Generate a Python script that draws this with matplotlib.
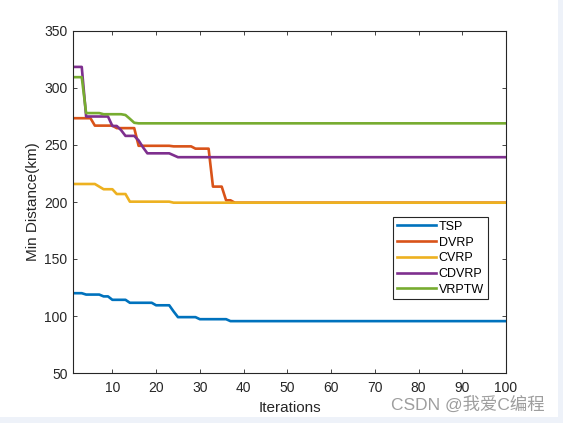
import numpy as np
import matplotlib.pyplot as plt
from matplotlib.patches import Rectangle

# Iteration axis and best distance per iteration for each problem type
iterations = np.arange(1, 101)

tsp = [
    120.0, 120.0, 120.0, 118.8, 118.8, 118.8, 118.8, 117.2, 117.2, 114.2,
    114.2, 114.2, 114.2, 111.6, 111.6, 111.6, 111.6, 111.6, 111.6, 109.4,
    109.4, 109.4, 109.4, 104.0, 99.0, 99.0, 99.0, 99.0, 99.0, 97.2,
    97.2, 97.2, 97.2, 97.2, 97.2, 97.2, 95.5, 95.5, 95.5, 95.5,
    95.5, 95.5, 95.5, 95.5, 95.5, 95.5, 95.5, 95.5, 95.5, 95.5,
    95.5, 95.5, 95.5, 95.5, 95.5, 95.5, 95.5, 95.5, 95.5, 95.5,
    95.5, 95.5, 95.5, 95.5, 95.5, 95.5, 95.5, 95.5, 95.5, 95.5,
    95.5, 95.5, 95.5, 95.5, 95.5, 95.5, 95.5, 95.5, 95.5, 95.5,
    95.5, 95.5, 95.5, 95.5, 95.5, 95.5, 95.5, 95.5, 95.5, 95.5,
    95.5, 95.5, 95.5, 95.5, 95.5, 95.5, 95.5, 95.5, 95.5, 95.5,
]

dvrp = [
    273.5, 273.5, 273.5, 273.5, 273.5, 267.0, 267.0, 267.0, 267.0, 267.0,
    264.8, 264.8, 264.8, 264.8, 264.8, 249.3, 249.3, 249.3, 249.3, 249.3,
    249.3, 249.3, 249.3, 248.8, 248.8, 248.8, 248.8, 248.8, 246.8, 246.8,
    246.8, 246.8, 213.5, 213.5, 213.5, 201.5, 201.5, 199.4, 199.4, 199.4,
    199.4, 199.4, 199.4, 199.4, 199.4, 199.4, 199.4, 199.4, 199.4, 199.4,
    199.4, 199.4, 199.4, 199.4, 199.4, 199.4, 199.4, 199.4, 199.4, 199.4,
    199.4, 199.4, 199.4, 199.4, 199.4, 199.4, 199.4, 199.4, 199.4, 199.4,
    199.4, 199.4, 199.4, 199.4, 199.4, 199.4, 199.4, 199.4, 199.4, 199.4,
    199.4, 199.4, 199.4, 199.4, 199.4, 199.4, 199.4, 199.4, 199.4, 199.4,
    199.4, 199.4, 199.4, 199.4, 199.4, 199.4, 199.4, 199.4, 199.4, 199.4,
]

cvrp = [
    215.8, 215.8, 215.8, 215.8, 215.8, 215.8, 213.5, 211.2, 211.2, 211.2,
    207.0, 207.0, 207.0, 200.3, 200.3, 200.3, 200.3, 200.3, 200.3, 200.3,
    200.3, 200.3, 200.3, 199.4, 199.4, 199.4, 199.4, 199.4, 199.4, 199.4,
    199.4, 199.4, 199.4, 199.4, 199.4, 199.4, 199.4, 199.4, 199.4, 199.4,
    199.4, 199.4, 199.4, 199.4, 199.4, 199.4, 199.4, 199.4, 199.4, 199.4,
    199.4, 199.4, 199.4, 199.4, 199.4, 199.4, 199.4, 199.4, 199.4, 199.4,
    199.4, 199.4, 199.4, 199.4, 199.4, 199.4, 199.4, 199.4, 199.4, 199.4,
    199.4, 199.4, 199.4, 199.4, 199.4, 199.4, 199.4, 199.4, 199.4, 199.4,
    199.4, 199.4, 199.4, 199.4, 199.4, 199.4, 199.4, 199.4, 199.4, 199.4,
    199.4, 199.4, 199.4, 199.4, 199.4, 199.4, 199.4, 199.4, 199.4, 199.4,
]

cdvrp = [
    318.5, 318.5, 318.5, 275.0, 275.0, 275.0, 275.0, 275.0, 275.0, 266.7,
    266.7, 263.0, 258.0, 258.0, 258.0, 254.0, 248.0, 242.7, 242.7, 242.7,
    242.7, 242.7, 242.7, 241.0, 239.3, 239.3, 239.3, 239.3, 239.3, 239.3,
    239.3, 239.3, 239.3, 239.3, 239.3, 239.3, 239.3, 239.3, 239.3, 239.3,
    239.3, 239.3, 239.3, 239.3, 239.3, 239.3, 239.3, 239.3, 239.3, 239.3,
    239.3, 239.3, 239.3, 239.3, 239.3, 239.3, 239.3, 239.3, 239.3, 239.3,
    239.3, 239.3, 239.3, 239.3, 239.3, 239.3, 239.3, 239.3, 239.3, 239.3,
    239.3, 239.3, 239.3, 239.3, 239.3, 239.3, 239.3, 239.3, 239.3, 239.3,
    239.3, 239.3, 239.3, 239.3, 239.3, 239.3, 239.3, 239.3, 239.3, 239.3,
    239.3, 239.3, 239.3, 239.3, 239.3, 239.3, 239.3, 239.3, 239.3, 239.3,
]

vrptw = [
    309.5, 309.5, 309.5, 278.0, 278.0, 278.0, 278.0, 277.0, 277.0, 277.0,
    277.0, 277.0, 276.3, 273.0, 269.5, 269.0, 269.0, 269.0, 269.0, 269.0,
    269.0, 269.0, 269.0, 269.0, 269.0, 269.0, 269.0, 269.0, 269.0, 269.0,
    269.0, 269.0, 269.0, 269.0, 269.0, 269.0, 269.0, 269.0, 269.0, 269.0,
    269.0, 269.0, 269.0, 269.0, 269.0, 269.0, 269.0, 269.0, 269.0, 269.0,
    269.0, 269.0, 269.0, 269.0, 269.0, 269.0, 269.0, 269.0, 269.0, 269.0,
    269.0, 269.0, 269.0, 269.0, 269.0, 269.0, 269.0, 269.0, 269.0, 269.0,
    269.0, 269.0, 269.0, 269.0, 269.0, 269.0, 269.0, 269.0, 269.0, 269.0,
    269.0, 269.0, 269.0, 269.0, 269.0, 269.0, 269.0, 269.0, 269.0, 269.0,
    269.0, 269.0, 269.0, 269.0, 269.0, 269.0, 269.0, 269.0, 269.0, 269.0,
]

labels = ['TSP', 'DVRP', 'CVRP', 'CDVRP', 'VRPTW']
series = [tsp, dvrp, cvrp, cdvrp, vrptw]
# MATLAB default colour order
colors = ['#0072BD', '#D95319', '#EDB120', '#7E2F8E', '#77AC30']

xticks = [10, 20, 30, 40, 50, 60, 70, 80, 90, 100]
yticks = [50, 100, 150, 200, 250, 300, 350]

plt.rcParams['font.family'] = ['Liberation Sans', 'DejaVu Sans']

fig = plt.figure(figsize=(5.63, 4.23), dpi=100)
# light page strip along bottom and right edge of the screenshot
fig.patches.append(Rectangle((0, 0), 1, 6 / 423, transform=fig.transFigure,
                             facecolor='#eef2f9', edgecolor='none', zorder=0))
fig.patches.append(Rectangle((558 / 563, 0), 5 / 563, 1, transform=fig.transFigure,
                             facecolor='#eef2f9', edgecolor='none', zorder=0))

ax = fig.add_axes([73 / 563, 50 / 423, 433 / 563, 342 / 423])

for vals, lab, col in zip(series, labels, colors):
    ax.plot(iterations, vals, color=col, linewidth=1.9, label=lab)

ax.set_xlim(1, 100)
ax.set_ylim(50, 350)
ax.set_xticks(xticks)
ax.set_yticks(yticks)

axis_col = '#262626'
for sp in ax.spines.values():
    sp.set_color(axis_col)
    sp.set_linewidth(0.8)
ax.tick_params(direction='in', top=True, right=True, length=3,
               width=0.6, colors=axis_col, labelsize=10)
ax.tick_params(axis='x', pad=6)
ax.tick_params(axis='y', pad=4)

ax.set_xlabel('Iterations', fontsize=11, color=axis_col, labelpad=4)
ax.set_ylabel('Min Distance(km)', fontsize=11, color=axis_col, labelpad=3)

leg = ax.legend(loc='upper left', bbox_to_anchor=(393 / 563, 1 - 217 / 423),
                bbox_transform=fig.transFigure, fontsize=9, frameon=True,
                fancybox=False, framealpha=1, edgecolor='#262626',
                handlelength=3.1, handletextpad=0.25, labelspacing=0.3,
                borderpad=0.3, borderaxespad=0)
leg.get_frame().set_linewidth(0.8)

fig.text(468 / 563, 1 - 404 / 423, 'CSDN @我爱C编程', ha='center', va='center',
         fontsize=12.5, color='#9e9e9e',
         family=['Liberation Sans', 'Noto Sans CJK SC'])

fig.savefig('out.png', dpi=100)
